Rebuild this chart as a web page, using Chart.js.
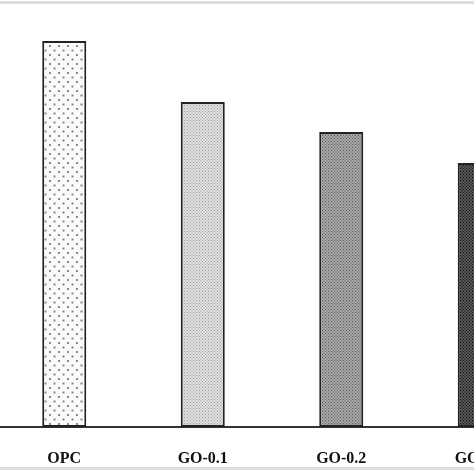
<!DOCTYPE html>
<html>
<head>
<meta charset="utf-8">
<script src="https://cdn.jsdelivr.net/npm/chart.js@4"></script>
<style>
  html, body { margin: 0; padding: 0; background: #fff; }
  #wrap { position: relative; width: 474px; height: 474px; overflow: hidden; }
  #wrap canvas { position: absolute; left: -5px; top: 0; }
  .rule { position: absolute; left: 0; width: 474px; height: 3px; background: #ddd; }
</style>
</head>
<body>
<div id="wrap">
  <canvas id="c" width="554" height="474"></canvas>
  <div class="rule" style="top:1px"></div>
  <div class="rule" style="top:467px"></div>
</div>
<script>
// values (relative bar heights, axis max = 427)
const categories = ['OPC', 'GO-0.1', 'GO-0.2', 'GO-0.3'];
const values = [386, 325, 295, 264];
const yMax = 427;

// fill patterns per bar: [background, dot colour, step, dot size]
function makePattern(bg, fg, step, size, checker) {
    const p = document.createElement('canvas');
    p.width = step; p.height = step;
    const g = p.getContext('2d');
    g.fillStyle = bg; g.fillRect(0, 0, step, step);
    g.fillStyle = fg;
    g.fillRect(0, 0, size, size);
    if (checker) g.fillRect(step / 2, step / 2, size, size);
    return document.getElementById('c').getContext('2d').createPattern(p, 'repeat');
}
const fills = [
    makePattern('#fafafa', '#888', 9, 2, true),
    makePattern('#e2e2e2', '#999', 3, 1, true),
    makePattern('#aaa', '#555', 3, 1, true),
    makePattern('#555', '#111', 3, 1, true)
];

new Chart(document.getElementById('c'), {
    type: 'bar',
    data: {
        labels: categories,
        datasets: [{
            data: values,
            backgroundColor: fills,
            borderColor: '#222',
            borderWidth: 2,
            borderSkipped: false,
            barPercentage: 0.318,
            categoryPercentage: 1
        }]
    },
    options: {
        responsive: false,
        animation: false,
        layout: { padding: 0 },
        plugins: { legend: { display: false }, tooltip: { enabled: false } },
        scales: {
            x: {
                grid: { display: false },
                border: { color: '#333', width: 2 },
                ticks: {
                    color: '#111',
                    padding: 14,
                    font: { family: 'Liberation Serif', weight: 'bold', size: 16 }
                },
                afterFit: s => { s.height = 47; }
            },
            y: {
                display: false,
                min: 0,
                max: yMax
            }
        }
    }
});
</script>
</body>
</html>
